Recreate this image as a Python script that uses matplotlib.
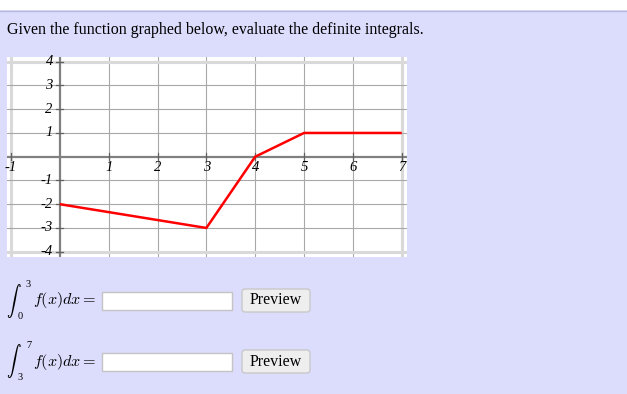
import matplotlib
matplotlib.use("Agg")
import matplotlib.pyplot as plt
from matplotlib.patches import Rectangle, FancyBboxPatch

# Piecewise-linear function f(x)
xs = [0, 3, 4, 5, 7]
ys = [-2, -3, 0, 1, 1]

x_ticks = [-1, 1, 2, 3, 4, 5, 6, 7]
y_ticks = [-4, -3, -2, -1, 1, 2, 3, 4]

heading = "Given the function graphed below, evaluate the definite integrals."
limits = [(0, 3), (3, 7)]

W, H = 627, 394
BG = "#dcdcfd"
SERIF = ["Liberation Serif", "DejaVu Serif"]

fig = plt.figure(figsize=(W / 100, H / 100), dpi=100)
fig.patch.set_facecolor(BG)

# Page layer in pixel units (origin top-left)
page = fig.add_axes([0, 0, 1, 1])
page.set_xlim(0, W)
page.set_ylim(H, 0)
page.axis("off")

page.add_patch(Rectangle((0, 0), W, 10, facecolor="white", edgecolor="none"))
page.plot([0, W], [10.5, 10.5], color="#b8b8e0", lw=1)
page.text(7, 30, heading, family=SERIF, fontsize=11.5, va="center", ha="left",
          color="black")

# Graph panel
left, right, top, bottom = 7, 407, 57, 257
gx = fig.add_axes([left / W, 1 - bottom / H, (right - left) / W, (bottom - top) / H])
gx.set_facecolor("white")
gx.set_xlim(-1.082, 7.108)
gx.set_ylim(-4.223, 4.198)
for s in gx.spines.values():
    s.set_visible(False)
gx.set_xticks([])
gx.set_yticks([])

for v in range(-1, 8):
    if v in (-1, 7):
        gx.axvline(v, color="#d9d9d9", lw=2.2, zorder=1)
    elif v != 0:
        gx.axvline(v, color="#a8a8a8", lw=0.8, zorder=1)
for v in range(-4, 5):
    if v in (-4, 4):
        gx.axhline(v, color="#d9d9d9", lw=2.2, zorder=1)
    elif v != 0:
        gx.axhline(v, color="#a8a8a8", lw=0.8, zorder=1)

gx.axhline(0, color="#808080", lw=1.6, zorder=2)
gx.axvline(0, color="#808080", lw=1.6, zorder=2)

# tick marks on axes
tx = 3.5 / 23.75
for v in x_ticks:
    gx.plot([v, v], [-tx, tx], color="#606060", lw=0.9, zorder=3)
ty = 3.5 / 48.84
for v in y_ticks:
    gx.plot([-ty, ty], [v, v], color="#606060", lw=0.9, zorder=3)

for v in x_ticks:
    gx.text(v, -11 / 23.75, str(v), family=SERIF, style="italic", fontsize=10.5,
            ha="center", va="center", zorder=4)
for v in y_ticks:
    gx.text(-7 / 48.84, v, str(v), family=SERIF, style="italic", fontsize=10.5,
            ha="right", va="center", zorder=4)

gx.plot(xs, ys, color="#ff0000", lw=1.8, zorder=5, solid_capstyle="butt")

# Integral rows
row_centers = [300.5, 361.5]
for (a, b), cy in zip(limits, row_centers):
    page.text(13.5, cy, r"$\int$", fontsize=10.5, ha="center", va="center",
              math_fontfamily="cm", color="black")
    page.text(28.5, cy - 16, str(b), family=SERIF, fontsize=7.5,
              ha="center", va="center")
    page.text(20, cy + 16, str(a), family=SERIF, fontsize=7.5,
              ha="center", va="center")
    page.text(33, cy, r"$f(x)dx =$", fontsize=11.6, ha="left", va="center",
              math_fontfamily="cm")
    page.add_patch(Rectangle((101.5, cy - 9), 130, 18, facecolor="white",
                             edgecolor="#c4c4c4", lw=1))
    page.add_patch(FancyBboxPatch((242, cy - 11.5), 68, 23,
                                  boxstyle="round,pad=0,rounding_size=3",
                                  facecolor="#eeeeee", edgecolor="#c8c8c8", lw=1))
    page.text(276, cy, "Preview", family=SERIF, fontsize=11.5,
              ha="center", va="center", color="black")

fig.savefig("out.png", dpi=100, facecolor=BG)
